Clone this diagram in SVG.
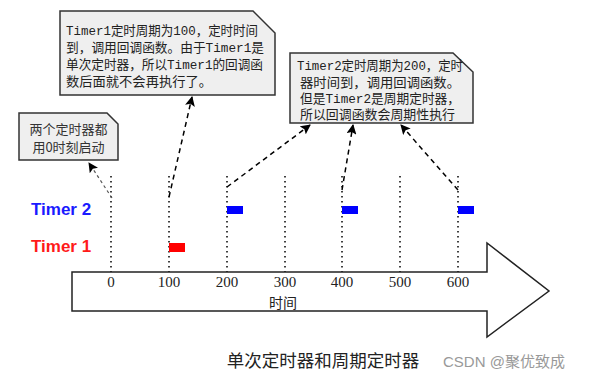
<svg xmlns="http://www.w3.org/2000/svg" width="593" height="374" viewBox="0 0 593 374">
<defs>
<marker id="ahb" viewBox="0 0 10 10" refX="9" refY="5" markerWidth="10" markerHeight="10" orient="auto" markerUnits="userSpaceOnUse">
<path d="M0,0 L10,5 L0,10 L2,5 Z" fill="#000"/>
</marker>
</defs>
<style>
.callout{fill:#efefef;stroke:#333;stroke-width:1.5}
.ct{font-family:"Liberation Mono","Noto Sans CJK SC",monospace;font-size:13px;fill:#222}
.ct3{font-family:"Noto Sans CJK SC",sans-serif;font-size:13px;fill:#333}
.grid{stroke:#000;stroke-width:1.5;stroke-dasharray:1.5 3.5;fill:none}
.conn{stroke:#000;stroke-width:1.5;stroke-dasharray:5 4;fill:none}
.tick{font-family:"Liberation Serif",serif;font-size:15px;fill:#222;text-anchor:middle}
.tl{font-family:"Liberation Sans","Noto Sans",sans-serif;font-weight:bold;font-size:17px}
</style>
<rect width="593" height="374" fill="#fff"/>

<g id="grid">
<line class="grid" x1="111" y1="176" x2="111" y2="272"/>
<line class="grid" x1="169" y1="176" x2="169" y2="272"/>
<line class="grid" x1="227" y1="176" x2="227" y2="272"/>
<line class="grid" x1="285" y1="176" x2="285" y2="272"/>
<line class="grid" x1="342" y1="176" x2="342" y2="272"/>
<line class="grid" x1="400" y1="176" x2="400" y2="272"/>
<line class="grid" x1="458" y1="176" x2="458" y2="272"/>
</g>

<g id="time-axis">
<path d="M72,272 L487,272 L487,243 L549,291 L487,337 L487,311 L72,311 Z" fill="#fff" stroke="#222" stroke-width="1.5"/>
<text class="tick" x="111" y="287">0</text>
<text class="tick" x="169" y="287">100</text>
<text class="tick" x="227" y="287">200</text>
<text class="tick" x="285" y="287">300</text>
<text class="tick" x="342" y="287">400</text>
<text class="tick" x="400" y="287">500</text>
<text class="tick" x="458" y="287">600</text>
<text x="283" y="308" font-family="Noto Sans CJK SC,sans-serif" font-size="14" fill="#222" text-anchor="middle">时间</text>
</g>

<g id="timer2">
<text class="tl" x="31" y="215" fill="#1a1aff">Timer 2</text>
<rect x="227" y="206" width="16" height="8" fill="#0000ff"/>
<rect x="342" y="206" width="16" height="8" fill="#0000ff"/>
<rect x="458" y="206" width="16" height="8" fill="#0000ff"/>
</g>

<g id="timer1">
<text class="tl" x="31" y="252" fill="#ff1a1a">Timer 1</text>
<rect x="169" y="243" width="16" height="9" fill="#ff0000"/>
</g>

<g id="connectors">
<line x1="112" y1="198" x2="89" y2="163" stroke="#555" stroke-width="1.2" stroke-dasharray="3 3" marker-end="url(#ahb)"/>
<line class="conn" x1="169" y1="197" x2="192" y2="97" marker-end="url(#ahb)"/>
<line class="conn" x1="227" y1="187" x2="310" y2="125" marker-end="url(#ahb)"/>
<line class="conn" x1="342" y1="190" x2="353" y2="125" marker-end="url(#ahb)"/>
<line class="conn" x1="458" y1="190" x2="401" y2="125" marker-end="url(#ahb)"/>
</g>

<g id="callout1">
<path class="callout" d="M60,11 L253,11 L275,33 L275,95 L60,95 Z"/>
<text class="ct" x="66" y="35" textLength="192" lengthAdjust="spacingAndGlyphs">Timer1定时周期为100，定时时间</text>
<text class="ct" x="66" y="52" textLength="198" lengthAdjust="spacingAndGlyphs">到，调用回调函数。由于Timer1是</text>
<text class="ct" x="66" y="69" textLength="197" lengthAdjust="spacingAndGlyphs">单次定时器，所以Timer1的回调函</text>
<text class="ct" x="66" y="86" textLength="146" lengthAdjust="spacingAndGlyphs">数后面就不会再执行了。</text>
</g>

<g id="callout2">
<path class="callout" d="M290,53 L453,53 L473,72 L473,123 L290,123 Z"/>
<text class="ct" x="297" y="70" textLength="166" lengthAdjust="spacingAndGlyphs">Timer2定时周期为200，定时</text>
<text class="ct" x="300" y="87" textLength="160" lengthAdjust="spacingAndGlyphs">器时间到，调用回调函数。</text>
<text class="ct" x="300" y="103" textLength="160" lengthAdjust="spacingAndGlyphs">但是Timer2是周期定时器，</text>
<text class="ct" x="300" y="119" textLength="155" lengthAdjust="spacingAndGlyphs">所以回调函数会周期性执行</text>
</g>

<g id="callout3">
<path class="callout" d="M19,113 L107,113 L118,124 L118,160 L19,160 Z"/>
<text class="ct3" x="68.5" y="134" text-anchor="middle">两个定时器都</text>
<text class="ct3" x="68.5" y="152" text-anchor="middle">用0时刻启动</text>
</g>

<g id="title">
<text x="323" y="367" font-family="Noto Sans CJK SC,sans-serif" font-size="17.5" fill="#222" text-anchor="middle">单次定时器和周期定时器</text>
</g>
<text x="443" y="367" font-family="Liberation Sans,Noto Sans CJK SC,sans-serif" font-size="15" fill="#999">CSDN @聚优致成</text>
</svg>
